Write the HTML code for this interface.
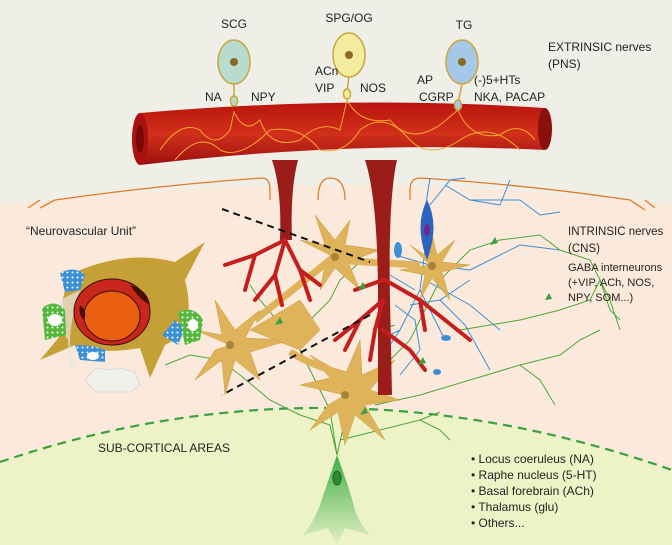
<!DOCTYPE html>
<html><head><meta charset="utf-8"><style>
html,body{margin:0;padding:0;background:#efefe8}
svg{display:block}
text{font-family:"Liberation Sans",sans-serif;font-size:12px;fill:#222}
</style></head><body>
<svg width="672" height="545" viewBox="0 0 672 545" xmlns="http://www.w3.org/2000/svg">
<defs>
<pattern id="dotsB" width="5" height="5" patternUnits="userSpaceOnUse"><rect width="5" height="5" fill="#3d8fd6"/><circle cx="2.5" cy="2.5" r="1" fill="#fff"/></pattern>
<pattern id="dotsG" width="5" height="5" patternUnits="userSpaceOnUse"><rect width="5" height="5" fill="#55b83c"/><circle cx="2.5" cy="2.5" r="1" fill="#fff"/></pattern>
<linearGradient id="vessel" x1="0" y1="0" x2="0" y2="1"><stop offset="0" stop-color="#b8140e"/><stop offset=".5" stop-color="#d2301a"/><stop offset="1" stop-color="#9a1010"/></linearGradient>
<linearGradient id="gcell" x1="0" y1="0" x2="0" y2="1"><stop offset="0" stop-color="#3fae45"/><stop offset="1" stop-color="#e4f0c4"/></linearGradient>
</defs>
<rect width="672" height="545" fill="#efefe8"/>
<!-- cortex -->
<path d="M0,205 Q336,165 672,205 L672,545 L0,545Z" fill="#fbeadb"/>
<path d="M40,208 L55,200 Q160,185 262,178 Q270,178 270,190 L270,200" fill="none" stroke="#e07b28" stroke-width="1.3"/>
<path d="M318,200 Q318,178 330,178 Q345,178 345,200" fill="none" stroke="#e07b28" stroke-width="1.3"/>
<path d="M410,200 L410,190 Q410,178 420,178 Q530,185 630,200 L645,210" fill="none" stroke="#e07b28" stroke-width="1.3"/>
<path d="M28,208 L40,200 M645,200 L655,208" stroke="#e07b28" stroke-width="1.3"/>
<!-- subcortical -->
<path d="M0,462 Q330,350 672,470 L672,545 L0,545Z" fill="#eef2c7"/>
<path d="M0,462 Q330,350 672,470" fill="none" stroke="#3aa040" stroke-width="2.2" stroke-dasharray="9,6"/>
<!-- blue dendrites -->
<g fill="none" stroke="#3b8ed8" stroke-width="1">
<path d="M425,250 L420,290 L400,330 L380,360 M420,290 L445,340 M410,305 L440,300 L470,280 M425,280 L470,305 L500,330 M440,300 L465,325 L490,370 M400,330 L380,340 M430,205 L450,180 L465,178 M445,185 L470,200 L500,205 M425,210 L430,178 M470,200 L520,200 L540,215 L560,212 M500,205 L510,180 M395,255 L430,265 L470,270 M390,275 L415,290"/>
<path d="M395,305 L415,320 L420,350 L400,375 M470,270 L520,245 L560,250"/>
</g>
<!-- green axons -->
<g fill="none" stroke="#4aa63c" stroke-width="1">
<path d="M337,455 L330,410 L315,380 L300,350 L285,330 L260,300 L250,285"/>
<path d="M337,455 L345,420 L360,390 L380,370 L410,340 L425,310 L440,280 L470,250 L500,240 L540,235 L560,250 L590,260 L610,300 L620,330"/>
<path d="M337,455 L330,425 L300,415 L270,400 L240,375 L220,360 L190,355 L165,365"/>
<path d="M340,440 L380,430 L420,420 L440,430 L450,440 M420,420 L440,412"/>
<path d="M375,405 L420,395 L470,380 L520,365 L560,355 L580,340 L600,330 M520,365 L540,380 L555,405"/>
<path d="M300,350 L310,320 L330,300 L340,280 L360,262"/>
<path d="M395,325 L380,330 M460,330 L520,320 L560,310 L590,300 L600,280 L610,310 L620,320"/>
</g>
<!-- gold neurons -->
<g fill="#dfb35a" stroke="#c89a3a" stroke-width=".5">
<path d="M230,345 L195,330 L222,335 L215,300 L235,330 L260,310 L245,338 L290,340 L250,352 L260,380 L235,360 L225,395 L222,360 L195,380 L215,350Z"/>
<path d="M345,395 L300,385 L330,378 L310,355 L345,375 L360,340 L362,375 L395,360 L370,390 L400,400 L365,405 L385,440 L355,415 L345,445 L338,412 L310,430 L328,405Z"/>
<path d="M330,255 L300,240 L325,245 L315,215 L335,240 L350,220 L345,245 L380,250 L348,262 L360,290 L335,268 L320,290 L325,265Z"/>
<path d="M430,265 L410,245 L425,255 L430,225 L437,255 L455,240 L442,262 L470,265 L442,272 L450,300 L432,278 L420,300 L425,275 L400,270Z"/>
<path d="M290,352 Q320,370 360,378 M255,320 L330,260 L420,265" stroke="#dfb35a" stroke-width="7" fill="none"/>
<path d="M250,330 L300,300 L320,330 L300,350Z"/>
</g>
<g fill="#a88438"><circle cx="230" cy="345" r="4"/><circle cx="345" cy="395" r="4"/><circle cx="335" cy="257" r="4"/><circle cx="432" cy="266" r="4"/></g>
<!-- vessel trunks -->
<g fill="#9b1d1a">
<path d="M272,160 L298,160 Q290,190 292,240 L280,240 Q282,190 272,160Z"/>
<path d="M365,160 L397,160 Q388,200 390,300 L392,395 L378,395 L378,300 Q378,200 365,160Z"/>
</g>
<g fill="none" stroke="#c41e1e" stroke-linecap="round">
<path d="M285,240 L275,275 L255,300 M275,275 L282,305 M285,240 L300,270 L320,285 M300,270 L310,300 M285,240 L255,255 L225,265 M255,255 L245,290" stroke-width="4"/>
<path d="M383,300 L360,320 L335,340 M360,320 L345,350 M383,300 L375,330 L370,360 M385,280 L420,300 L470,340 M420,300 L425,330 M383,330 L410,350 L425,370 M383,280 L355,290" stroke-width="4"/>
</g>
<!-- blue neuron -->
<path d="M427,200 Q440,225 427,260 Q414,225 427,200Z" fill="#2d62c0"/>
<ellipse cx="427" cy="230" rx="3" ry="6" fill="#6a2a8a"/>
<g fill="#3d8fd6"><ellipse cx="398" cy="250" rx="4" ry="8"/><ellipse cx="446" cy="338" rx="5" ry="3"/><ellipse cx="437" cy="372" rx="4" ry="3"/></g>
<g fill="#3aa040"><path d="M358,290 l5,-8 l3,6z"/><path d="M275,325 l5,-8 l3,6z"/><path d="M418,365 l5,-8 l3,6z"/><path d="M360,415 l5,-8 l3,6z"/><path d="M490,245 l5,-8 l3,6z"/><path d="M545,300 l4,-7 l3,6z"/></g>
<!-- dashed lines -->
<path d="M222,209 L370,262 M370,315 L222,395" stroke="#111" stroke-width="2" stroke-dasharray="7,5"/>
<!-- green neuron -->
<path d="M337,455 Q350,490 355,510 Q360,525 370,535 L345,528 L337,545 L328,528 L303,535 Q315,520 320,505 Q325,490 337,455Z" fill="url(#gcell)"/>
<ellipse cx="337" cy="478" rx="4" ry="7" fill="#2f8a35" stroke="#1c5e22"/>
<!-- neurovascular unit -->
<path d="M40,360 L65,330 Q55,290 80,270 Q130,250 175,262 L205,242 L185,280 Q198,330 165,345 L150,378 L140,348 Q100,355 75,345 Z" fill="#c4a036"/>
<path d="M68,340 Q55,320 60,300 L80,290 Q60,355 80,365 L70,370 Z" fill="#e8e6e2" opacity=".7"/>
<path d="M95,368 L110,370 L120,368 L135,372 L140,385 L130,392 L95,392 L85,380Z" fill="#efefeb" stroke="#ccc" stroke-width=".6"/>
<ellipse cx="112" cy="312" rx="38" ry="33" fill="#c9261c" stroke="#3a0c08"/>
<ellipse cx="112" cy="316" rx="28" ry="25" fill="#ea6012" stroke="#3a0c08"/>
<path d="M130,285 Q148,290 150,305 Q140,300 130,285Z" fill="#4a0e0a"/>
<path d="M80,305 Q88,312 84,320 Q78,315 80,305Z" fill="#4a0e0a"/>
<path d="M60,273 Q75,265 85,275 L80,290 L65,292Z" fill="url(#dotsB)"/>
<path d="M42,308 Q55,298 65,310 L66,335 L45,340Z" fill="url(#dotsG)"/>
<ellipse cx="55" cy="320" rx="7" ry="6" fill="#fff"/>
<path d="M75,345 Q95,345 105,350 L105,362 L80,360Z" fill="url(#dotsB)"/>
<ellipse cx="93" cy="356" rx="6" ry="4" fill="#fff"/>
<path d="M162,335 L175,320 L185,328 L178,345Z" fill="url(#dotsB)"/>
<path d="M178,312 Q195,305 203,320 L200,340 L185,345Z" fill="url(#dotsG)"/>
<ellipse cx="193" cy="325" rx="5" ry="6" fill="#fff"/>
<!-- main vessel -->
<path d="M140,113 Q350,95 545,108 L545,150 Q350,140 140,165Z" fill="url(#vessel)"/>
<ellipse cx="545" cy="129" rx="7" ry="21" fill="#8a0f0f"/>
<ellipse cx="140" cy="139" rx="8" ry="26" fill="#a8120f"/>
<ellipse cx="140" cy="139" rx="4" ry="14" fill="#7a0a0a"/>
<g fill="none" stroke="#f7a833" stroke-width="1">
<path d="M160,150 Q180,120 200,130 Q215,150 230,130 L234,112 Q245,135 260,120 Q270,150 300,140 Q320,120 340,130 L347,100 Q360,125 390,120 Q410,145 440,125 L458,110 Q470,140 500,135 Q520,120 535,140"/>
<path d="M175,160 Q200,130 220,150 Q240,160 270,130 Q300,125 320,150 Q345,155 360,130 Q385,110 410,140 Q430,160 460,140 Q490,120 520,150"/>
</g>
<!-- ganglia -->
<g stroke="#c7a63c" stroke-width="1.5">
<line x1="234" y1="82" x2="234" y2="98"/><line x1="349" y1="76" x2="347" y2="92"/><line x1="462" y1="84" x2="458" y2="103"/>
<ellipse cx="234" cy="62" rx="16" ry="22" fill="#b7dccf"/>
<ellipse cx="349" cy="55" rx="16" ry="22" fill="#f2ec9e"/>
<ellipse cx="462" cy="62" rx="16" ry="22" fill="#a5c8e8"/>
<ellipse cx="234" cy="101" rx="3.5" ry="5" fill="#b7dccf"/>
<ellipse cx="347" cy="94" rx="3.5" ry="5" fill="#f2ec9e"/>
<ellipse cx="458" cy="105" rx="3.5" ry="5" fill="#a5c8e8"/>
</g>
<g fill="#8a6a22"><circle cx="234" cy="62" r="4"/><circle cx="349" cy="55" r="4"/><circle cx="462" cy="62" r="4"/></g>
<!-- labels -->
<text x="234" y="28" text-anchor="middle">SCG</text>
<text x="349" y="22" text-anchor="middle">SPG/OG</text>
<text x="464" y="29" text-anchor="middle">TG</text>
<text x="205" y="101">NA</text>
<text x="251" y="101">NPY</text>
<text x="315" y="75">ACn</text>
<text x="315" y="92">VIP</text>
<text x="360" y="92">NOS</text>
<text x="417" y="84">AP</text>
<text x="419" y="101">CGRP</text>
<text x="474" y="84">(-)5+HTs</text>
<text x="474" y="101">NKA, PACAP</text>
<text x="548" y="51">EXTRINSIC nerves</text>
<text x="548" y="68">(PNS)</text>
<text x="26" y="235">“Neurovascular Unit”</text>
<text x="568" y="235" style="font-size:11.5px">INTRINSIC nerves</text>
<text x="568" y="252" style="font-size:11.5px">(CNS)</text>
<text x="568" y="271" style="font-size:11px">GABA interneurons</text>
<text x="568" y="286" style="font-size:11px">(+VIP, ACh, NOS,</text>
<text x="568" y="301" style="font-size:11px">NPY, SOM...)</text>
<text x="98" y="452">SUB-CORTICAL AREAS</text>
<text x="471" y="463">• Locus coeruleus (NA)</text>
<text x="471" y="479">• Raphe nucleus (5-HT)</text>
<text x="471" y="495">• Basal forebrain (ACh)</text>
<text x="471" y="511">• Thalamus (glu)</text>
<text x="471" y="527">• Others...</text>
</svg>
</body></html>
